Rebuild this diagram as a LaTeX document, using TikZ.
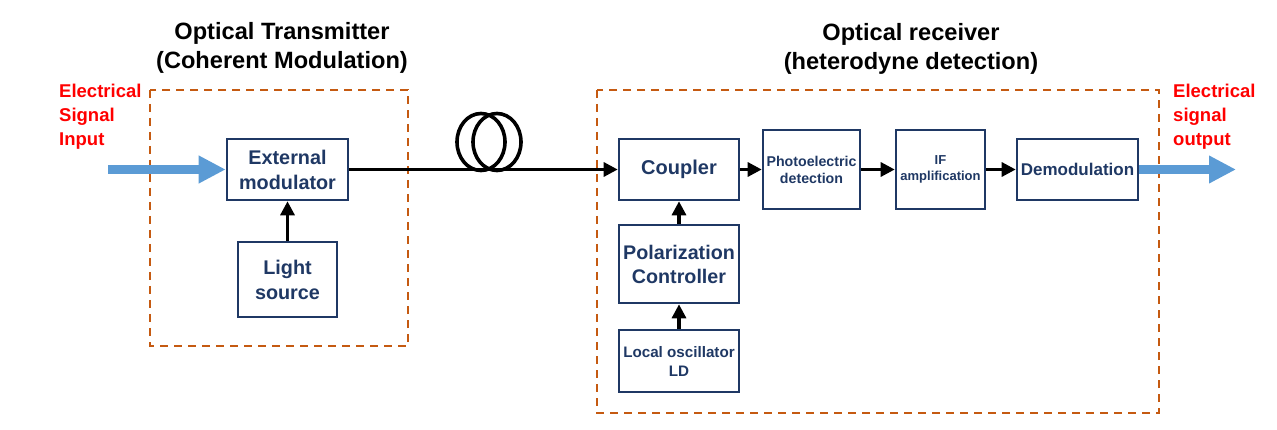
\documentclass[tikz,border=0pt]{standalone}
\usepackage{fontspec}
\setmainfont{Liberation Sans}
\usetikzlibrary{arrows.meta}
\definecolor{navy}{HTML}{1F3864}
\definecolor{dorange}{HTML}{C55A11}
\definecolor{lblue}{HTML}{5B9BD5}
\definecolor{sred}{HTML}{FF0000}
\begin{document}
\begin{tikzpicture}[x=1pt,y=-1pt,
  blk/.style={draw=navy,line width=2.6pt,text=navy,inner sep=0pt,align=center,font=\bfseries},
  grp/.style={draw=dorange,line width=2.5pt,dash pattern=on 8pt off 6pt},
  sig/.style={line width=3.2pt,-{Triangle[length=14pt,width=14pt]}},
  bigarrow/.style={draw=lblue,line width=9pt,-{Triangle[length=27pt,width=26pt]}},
  ttl/.style={align=center,font=\bfseries\fontsize{23.6}{29}\selectfont,inner sep=0pt},
  elab/.style={text=sred,align=left,anchor=west,inner sep=0pt,font=\bfseries\fontsize{18.5}{24}\selectfont}
]
\useasboundingbox (0,0) rectangle (1277,430);

% group frames
\draw[grp] (150,90) rectangle (408,346);
\draw[grp] (597,90) rectangle (1159,413);

% titles
\node[ttl] (tt) at (282,48) {Optical Transmitter\\(Coherent Modulation)};
\node[ttl] (tr) at (911,49) {Optical receiver\\(heterodyne detection)};

% side labels
\node[elab] (ein) at (59,117) {Electrical\\Signal\\Input};
\node[elab] (eout) at (1173,116.5) {Electrical\\signal\\output};

% blocks
\node[blk,minimum width=121pt,minimum height=61pt,font=\bfseries\fontsize{19.8}{25}\selectfont] (ext) at (287.5,169.5) {External\\modulator};
\node[blk,minimum width=99pt,minimum height=75pt,font=\bfseries\fontsize{19.8}{25}\selectfont] (light) at (287.5,279.5) {Light\\source};
\node[blk,minimum width=120pt,minimum height=61pt,font=\bfseries\fontsize{20}{24}\selectfont] (coup) at (679,169.5) {Coupler};
\node[blk,minimum width=97pt,minimum height=79pt,font=\bfseries\fontsize{14.2}{17}\selectfont] (photo) at (811.5,169.5) {Photoelectric\\detection};
\node[blk,minimum width=89pt,minimum height=79pt,font=\bfseries\fontsize{13}{16}\selectfont] (ifa) at (940.5,169.5) {IF\\amplification};
\node[blk,minimum width=121pt,minimum height=61pt,font=\bfseries\fontsize{17}{20}\selectfont] (demod) at (1077.5,169.5) {Demodulation};
\node[blk,minimum width=120pt,minimum height=78pt,font=\bfseries\fontsize{19.7}{24}\selectfont] (pol) at (679,264) {Polarization\\Controller};
\node[blk,minimum width=120pt,minimum height=62pt,font=\bfseries\fontsize{15.2}{19}\selectfont] (lo) at (679,361) {Local oscillator\\LD};

% big blue arrows
\coordinate (inA) at (108,169.5);
\coordinate (outA) at (1236,169.5);
\draw[bigarrow] (inA) -- (ext.west);
\draw[bigarrow] (demod.east) -- (outA);

% fiber with coil
\draw[sig] (ext.east) -- (coup.west);
\draw[line width=3.6pt] (481,142) ellipse [x radius=24pt,y radius=28.5pt];
\draw[line width=3.6pt] (497,142) ellipse [x radius=24pt,y radius=28.5pt];

% signal arrows
\draw[sig] (light.north) -- (ext.south);
\draw[sig] (coup.east) -- (photo.west);
\draw[sig] (photo.east) -- (ifa.west);
\draw[sig] (ifa.east) -- (demod.west);
\draw[sig] (pol.north) -- (coup.south);
\draw[sig] (lo.north) -- (pol.south);
\end{tikzpicture}
\end{document}
